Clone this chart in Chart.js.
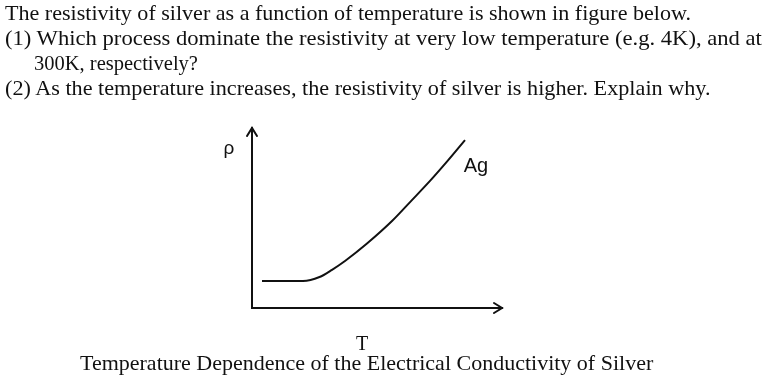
<!DOCTYPE html>
<html>
<head>
<meta charset="utf-8">
<script src="https://cdn.jsdelivr.net/npm/chart.js@4.4.0/dist/chart.umd.min.js"></script>
<style>
    html, body { margin: 0; padding: 0; background: #fff; }
    #page { position: relative; width: 769px; height: 386px; overflow: hidden; }
    #chart-wrap { position: absolute; left: 0; top: 0; width: 769px; height: 386px; }
    .txt {
        position: absolute; white-space: nowrap; color: #111;
        font-family: "Liberation Serif", "DejaVu Serif", serif; font-size: 21px;
        line-height: 1; transform-origin: 0 0;
    }
</style>
</head>
<body>
<div id="page">
    <div id="chart-wrap"><canvas id="rho-chart" width="769" height="386"></canvas></div>
    <div class="txt" style="left:5px; top:3px;" data-w="686">The resistivity of silver as a function of temperature is shown in figure below.</div>
    <div class="txt" style="left:5px; top:28px;" data-w="757">(1) Which process dominate the resistivity at very low temperature (e.g. 4K), and at</div>
    <div class="txt" style="left:34px; top:53px;" data-w="164">300K, respectively?</div>
    <div class="txt" style="left:5px; top:78px;" data-w="706">(2) As the temperature increases, the resistivity of silver is higher. Explain why.</div>
    <div class="txt" style="left:80px; top:353px;" data-w="573">Temperature Dependence of the Electrical Conductivity of Silver</div>
</div>
<script>
// T (arbitrary units) vs resistivity of Ag
const temps = [4, 12, 20.4, 27, 32, 37.2, 46, 56, 63.6, 71.2, 78.4, 85.2];
const rhoAg = [15, 15, 15, 17.2, 21.2, 26.1, 35.8, 48.3, 59.4, 70.6, 82, 93.3];
const axisLabels = { y: "ρ", x: "T" };
const seriesName = "Ag";

// stretch the serif lines to the widths in the picture
document.querySelectorAll(".txt").forEach(el => {
    const w = parseFloat(el.dataset.w);
    const s = w / el.scrollWidth;
    el.style.transform = `scaleX(${s})`;
});

const arrowsAndLabels = {
    id: "arrowsAndLabels",
    afterDraw(chart) {
        const ctx = chart.ctx;
        const xs = chart.scales.x, ys = chart.scales.y;
        const left = xs.left, right = xs.right, top = ys.top, bottom = ys.bottom;
        ctx.save();
        ctx.strokeStyle = "#111";
        ctx.lineWidth = 2;
        ctx.lineCap = "round";
        // arrow heads
        ctx.beginPath();
        ctx.moveTo(left - 5, top + 8);
        ctx.lineTo(left, top);
        ctx.lineTo(left + 5, top + 8);
        ctx.moveTo(right - 8, bottom - 5);
        ctx.lineTo(right, bottom);
        ctx.lineTo(right - 8, bottom + 5);
        ctx.stroke();

        ctx.fillStyle = "#111";
        ctx.textBaseline = "alphabetic";
        ctx.font = '19px "Liberation Sans", Arial, sans-serif';
        ctx.textAlign = "center";
        ctx.fillText(axisLabels.y, left - 23, top + 26);
        ctx.font = '20px "Liberation Sans", Arial, sans-serif';
        ctx.fillText(seriesName, xs.getPixelForValue(89.6), ys.getPixelForValue(75.5));
        ctx.font = '20px "Liberation Serif", serif';
        ctx.fillText(axisLabels.x, xs.getPixelForValue(44), bottom + 42);
        ctx.restore();
    }
};

new Chart(document.getElementById("rho-chart").getContext("2d"), {
    type: "line",
    data: {
        labels: temps,
        datasets: [{
            label: seriesName,
            data: temps.map((t, i) => ({ x: t, y: rhoAg[i] })),
            borderColor: "#111",
            borderWidth: 2,
            pointRadius: 0,
            cubicInterpolationMode: "monotone",
            fill: false
        }]
    },
    options: {
        responsive: false,
        animation: false,
        events: [],
        layout: { padding: { left: 252, right: 267, top: 128, bottom: 78 } },
        plugins: { legend: { display: false }, tooltip: { enabled: false } },
        scales: {
            x: {
                type: "linear", min: 0, max: 100,
                grid: { display: false, drawTicks: false },
                ticks: { display: false },
                border: { display: true, color: "#111", width: 2 }
            },
            y: {
                type: "linear", min: 0, max: 100,
                grid: { display: false, drawTicks: false },
                ticks: { display: false },
                border: { display: true, color: "#111", width: 2 }
            }
        }
    },
    plugins: [arrowsAndLabels]
});
</script>
</body>
</html>
